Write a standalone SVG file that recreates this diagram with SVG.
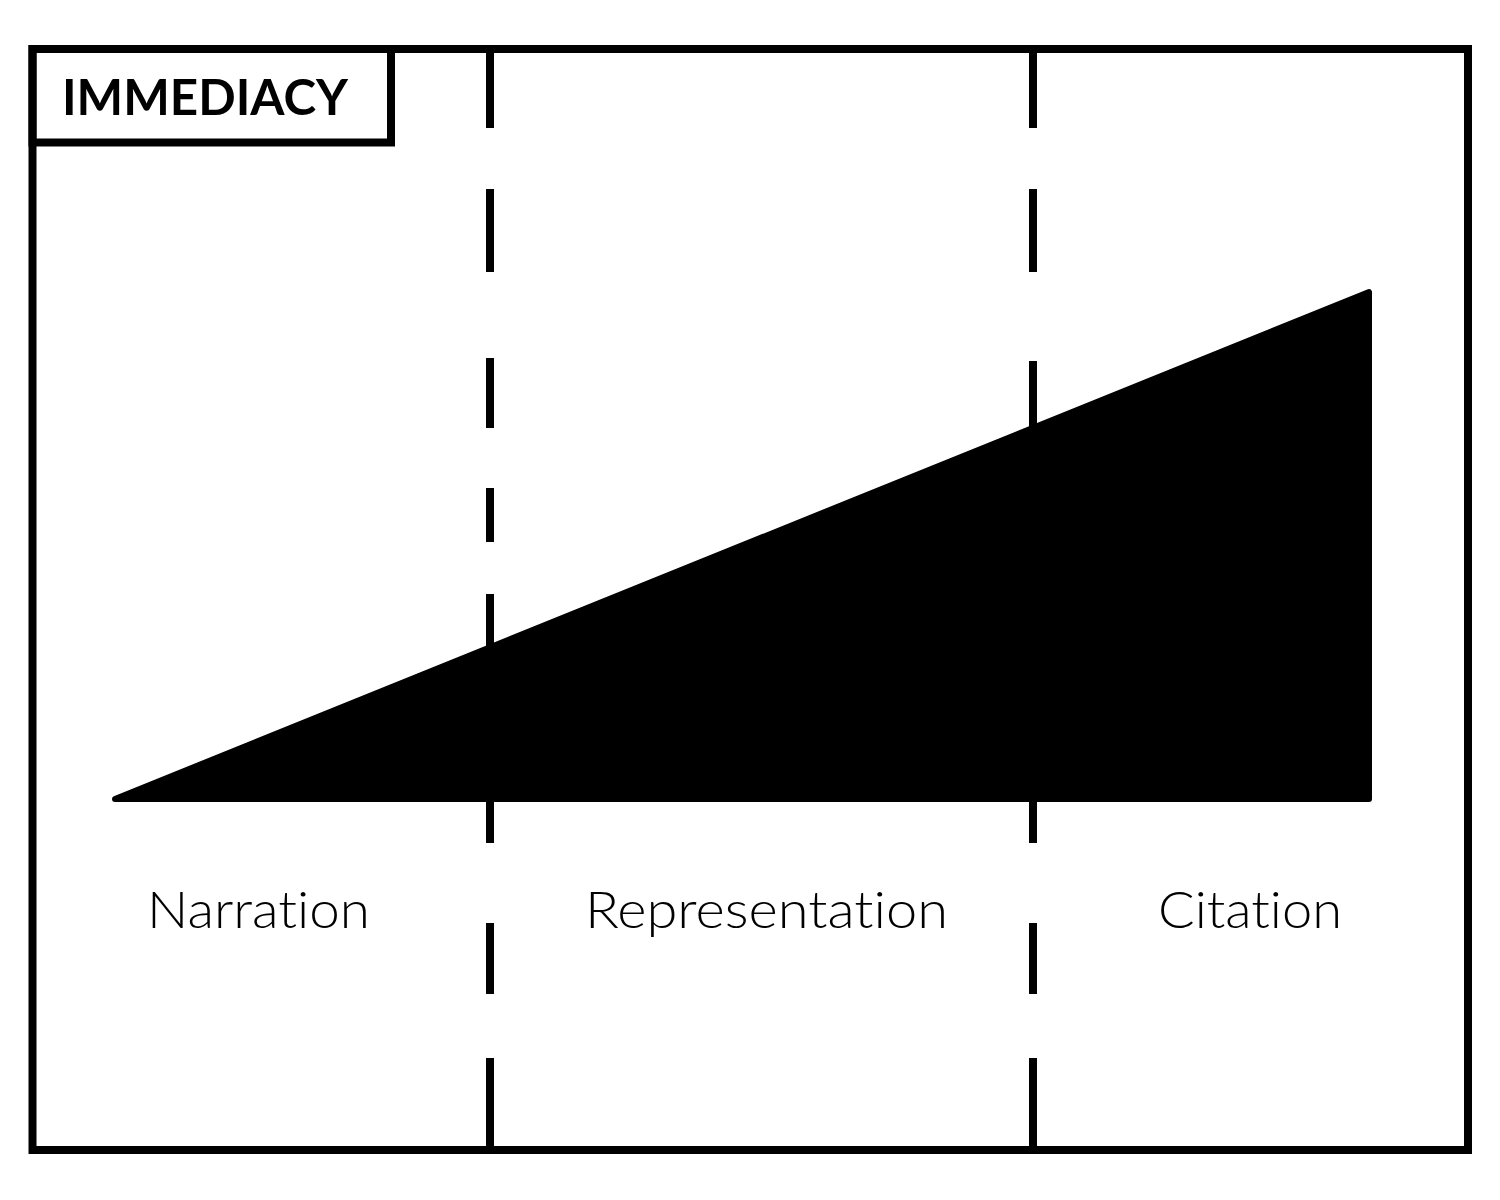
<svg xmlns="http://www.w3.org/2000/svg" width="1500" height="1200" viewBox="0 0 1500 1200">
<style>
.frame{fill:none;stroke:#000;stroke-width:8}
.div{stroke:#000;stroke-width:8;fill:none}
.lbl{font-family:Lato,"Open Sans","Liberation Sans",sans-serif;font-weight:300;font-size:51px;fill:#000;font-variant-ligatures:none;font-feature-settings:"liga" 0,"clig" 0}
.hdr{font-family:Lato,"Liberation Sans",sans-serif;font-weight:700;font-size:50px;fill:#000}
</style>
<rect x="0" y="0" width="1500" height="1200" fill="#fff"/>
<g id="dividers">
<path class="div" d="M490 45V128M490 189V272M490 358V428M490 488V542M490 594V660M490 790V843M490 923V994M490 1058V1150"/>
<path class="div" d="M1033 45V128M1033 189V272M1033 361V440M1033 790V843M1033 923V994M1033 1058V1150"/>
</g>
<g id="wedge">
<polygon points="115,799 1369,292 1369,799" fill="#000" stroke="#000" stroke-width="6" stroke-linejoin="round"/>
</g>
<g id="frame">
<rect class="frame" x="32.5" y="49" width="1435.5" height="1101"/>
</g>
<g id="title">
<rect class="frame" x="32.5" y="49" width="358.5" height="93.5"/>
<text class="hdr" x="62" y="115" textLength="286" lengthAdjust="spacingAndGlyphs">IMMEDIACY</text>
</g>
<g id="narration"><text class="lbl" x="147" y="928" textLength="223" lengthAdjust="spacingAndGlyphs">Narration</text></g>
<g id="representation"><text class="lbl" x="585" y="928" textLength="363" lengthAdjust="spacingAndGlyphs">Representation</text></g>
<g id="citation"><text class="lbl" x="1158" y="928" textLength="184" lengthAdjust="spacingAndGlyphs">Citation</text></g>
</svg>
